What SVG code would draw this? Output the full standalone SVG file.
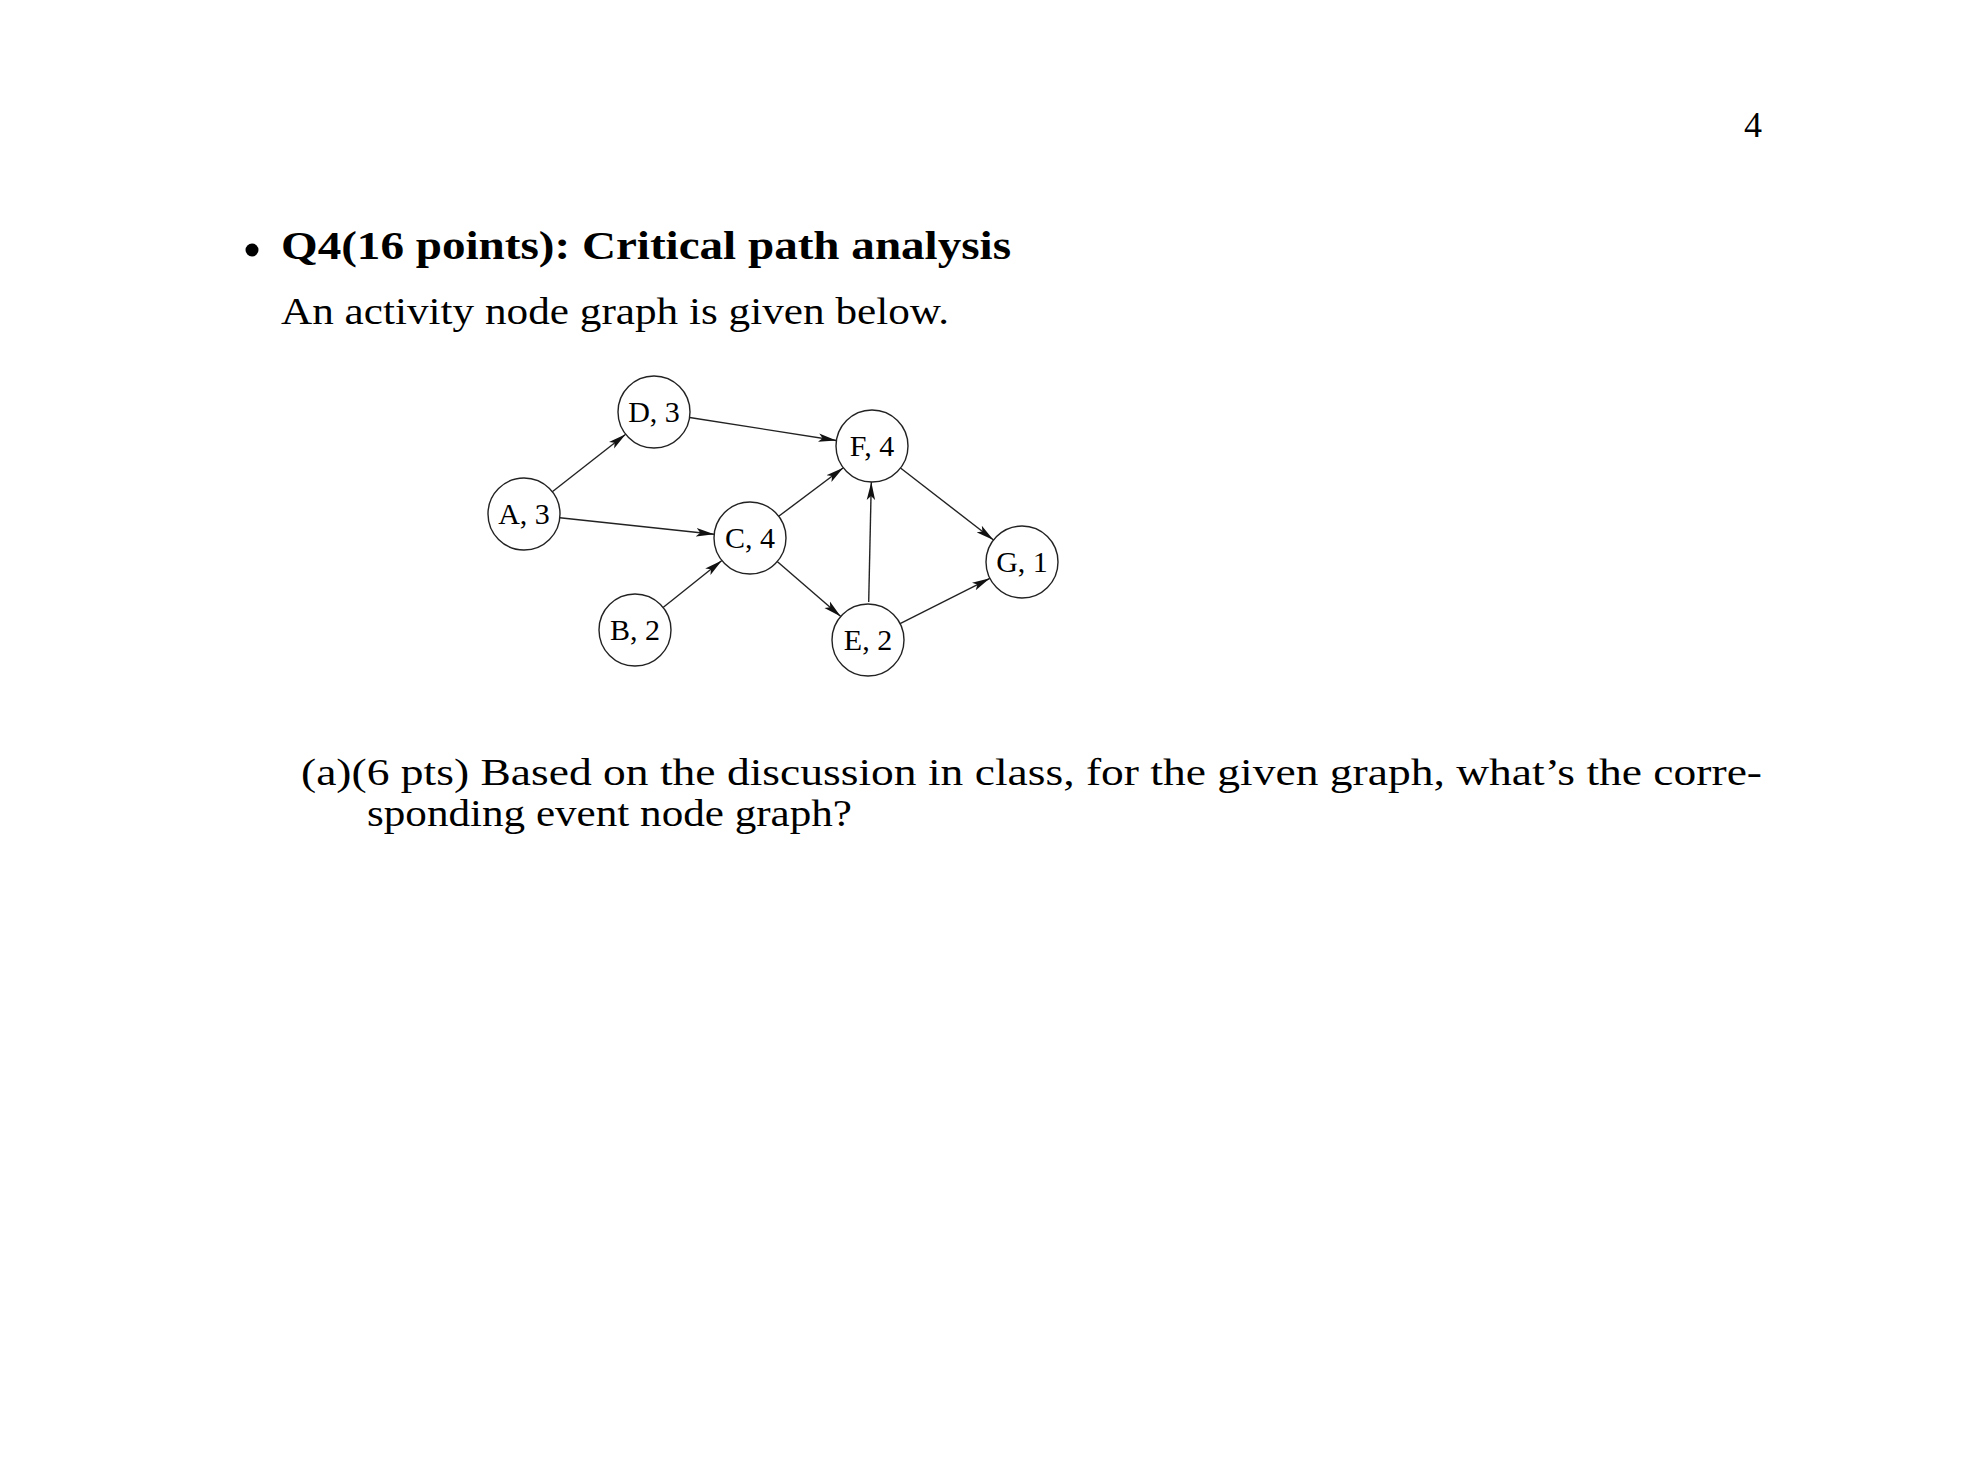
<svg xmlns="http://www.w3.org/2000/svg" width="1986" height="1476" viewBox="0 0 1986 1476">
<style>
.t{font-family:'Liberation Serif',serif;fill:#000}
.n circle{fill:#fff;stroke:#222;stroke-width:1.4}
.n text{font-family:'Liberation Serif',serif;font-size:30px;text-anchor:middle;fill:#000}
.e line{stroke:#222;stroke-width:1.4;marker-end:url(#ah)}
</style>
<defs>
<marker id="ah" markerUnits="userSpaceOnUse" markerWidth="20" markerHeight="10" refX="18" refY="5" orient="auto">
<path d="M0,0.8 L18,5 L0,9.2 L4,5 Z" fill="#111"/>
</marker>
</defs>
<rect width="1986" height="1476" fill="#fff"/>
<text class="t" x="1744" y="137" font-size="36" textLength="18" lengthAdjust="spacingAndGlyphs">4</text>
<circle cx="252" cy="250" r="6.5" fill="#000"/>
<text class="t" x="281" y="259" font-size="40" font-weight="bold" textLength="730" lengthAdjust="spacingAndGlyphs">Q4(16 points): Critical path analysis</text>
<text class="t" x="281" y="324" font-size="38" textLength="668" lengthAdjust="spacingAndGlyphs">An activity node graph is given below.</text>
<g class="e" id="connectors">
<line x1="552.3" y1="491.8" x2="625.7" y2="434.2"/>
<line x1="689.6" y1="417.5" x2="836.4" y2="440.5"/>
<line x1="559.8" y1="517.8" x2="714.2" y2="534.2"/>
<line x1="778.7" y1="516.3" x2="843.3" y2="467.7"/>
<line x1="777.2" y1="561.5" x2="840.8" y2="616.5"/>
<line x1="663.1" y1="607.5" x2="721.9" y2="560.5"/>
<line x1="868.7" y1="602" x2="871.3" y2="482"/>
<line x1="900.5" y1="468" x2="993.5" y2="540"/>
<line x1="900.1" y1="623.7" x2="989.9" y2="578.3"/>
</g>
<g class="n" id="node-A"><circle cx="524" cy="514" r="36"/><text x="524" y="524">A, 3</text></g>
<g class="n" id="node-D"><circle cx="654" cy="412" r="36"/><text x="654" y="422">D, 3</text></g>
<g class="n" id="node-C"><circle cx="750" cy="538" r="36"/><text x="750" y="548">C, 4</text></g>
<g class="n" id="node-B"><circle cx="635" cy="630" r="36"/><text x="635" y="640">B, 2</text></g>
<g class="n" id="node-F"><circle cx="872" cy="446" r="36"/><text x="872" y="456">F, 4</text></g>
<g class="n" id="node-E"><circle cx="868" cy="640" r="36"/><text x="868" y="650">E, 2</text></g>
<g class="n" id="node-G"><circle cx="1022" cy="562" r="36"/><text x="1022" y="572">G, 1</text></g>
<text class="t" x="301" y="785" font-size="38" textLength="1461" lengthAdjust="spacingAndGlyphs">(a)(6 pts) Based on the discussion in class, for the given graph, what’s the corre-</text>
<text class="t" x="367" y="826" font-size="38" textLength="485" lengthAdjust="spacingAndGlyphs">sponding event node graph?</text>
</svg>
